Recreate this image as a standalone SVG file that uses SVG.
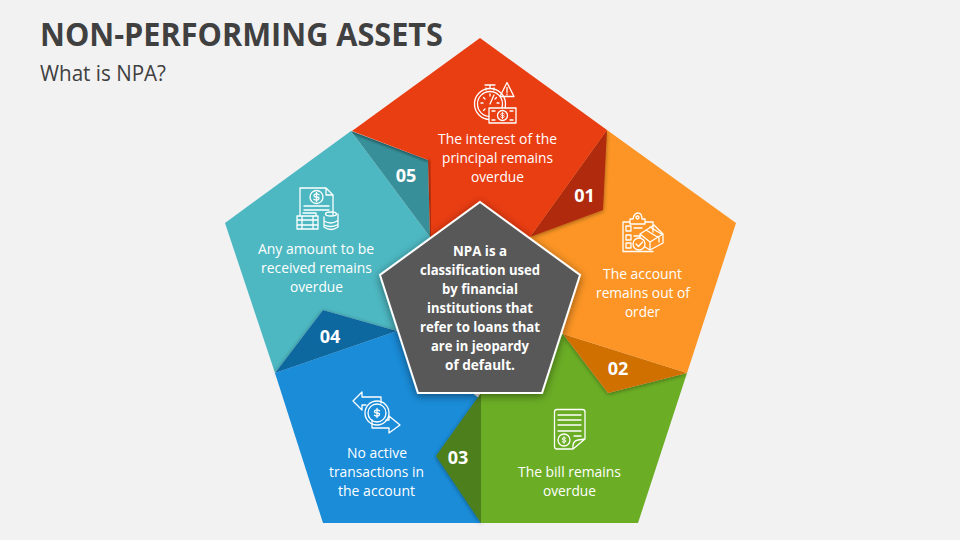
<svg xmlns="http://www.w3.org/2000/svg" width="960" height="540" viewBox="0 0 960 540">
<style>
text{font-family:"Open Sans","Noto Sans","Liberation Sans",sans-serif;fill:#fff;text-anchor:middle}
.t{font-size:15px;font-weight:500}
.n{font-size:18px;font-weight:700}
.c{font-size:15px;font-weight:700}
.h{fill:#404040;text-anchor:start}
.i{fill:none;stroke:#fff;stroke-width:1.3;stroke-linejoin:round;stroke-linecap:round}
.e{fill:none;stroke:#000;stroke-opacity:.45;stroke-width:3}
</style>
<defs>
<filter id="s" x="-20%" y="-20%" width="140%" height="140%"><feDropShadow dx="0" dy="1" stdDeviation="2" flood-color="#000" flood-opacity=".4"/></filter>
<filter id="sc" x="-20%" y="-20%" width="140%" height="140%"><feDropShadow dx="0" dy="2" stdDeviation="4" flood-color="#000" flood-opacity=".45"/></filter>
<filter id="b" x="-30%" y="-30%" width="160%" height="160%"><feGaussianBlur stdDeviation="1.500"/></filter>
<clipPath id="f5"><polygon points="351,131 428,160 430,237"/></clipPath>
<clipPath id="r1"><polygon points="480,38 607,130 530,237 480,260 430,237 428,160 352,131"/></clipPath>
<path id="d" d="M2.500 -2.200C1 -3.500 -2.500 -3.500 -2.500 -1.200C-2.500 1 2.500 -1 2.500 1.200C2.500 3.500 -1 3.500 -2.500 2.200M0 -4.500V4.500"/>
</defs>
<rect width="960" height="540" fill="#f2f2f2"/>
<text class="h" x="40" y="46" font-size="32" font-weight="700" textLength="403" lengthAdjust="spacingAndGlyphs">NON-PERFORMING ASSETS</text>
<text class="h" x="40" y="81" font-size="22" textLength="126" lengthAdjust="spacingAndGlyphs">What is NPA?</text>

<g id="node-5">
<polygon fill="#4db8c2" points="225,223 351,131 430,237 397,331 323,310 275,373"/>
<polygon fill="#379099" points="351,131 428,160 430,237"/>
<g clip-path="url(#f5)"><path class="e" filter="url(#b)" d="M351 131L428 160"/></g>
<g class="i">
<path d="M300 215V188H326L333 195V215M326 188V195H333"/>
<circle cx="316.500" cy="197" r="6.500"/>
<use href="#d" x="316.500" y="197"/>
<path d="M304 206H329M304 210H329"/>
<path d="M297 216H318V229H297ZM297 220H318M297 225H318M302 216V229M313 216V229M303 213H316V216"/>
<ellipse cx="331" cy="214" rx="5.500" ry="2"/>
<path d="M324 217V227Q331 232 338 227V214M324 221Q331 225 337 221M324 225Q331 228 337 225"/>
</g>
<text class="t" x="316" y="254" textLength="116" lengthAdjust="spacingAndGlyphs">Any amount to be</text>
<text class="t" x="316.500" y="273" textLength="111" lengthAdjust="spacingAndGlyphs">received remains</text>
<text class="t" x="316.500" y="292" textLength="53" lengthAdjust="spacingAndGlyphs">overdue</text>
<text class="n" x="406" y="182">05</text>
</g>

<g id="node-4">
<polygon fill="#11689f" filter="url(#s)" points="275,373 323,310 397,331"/>
<polygon fill="#1a8cd8" points="275,373 397,331 481,400 481,523 323,523"/>
<g class="i">
<path d="M381 403V397H362V392L353 401L362 410V405H366"/>
<path d="M372 420V428H389V433L400 425L389 416V420H386"/>
<circle cx="377" cy="413" r="12"/><circle cx="377" cy="413" r="9"/>
<use href="#d" x="377" y="413"/>
</g>
<text class="t" x="377" y="458" textLength="60" lengthAdjust="spacingAndGlyphs">No active</text>
<text class="t" x="376.500" y="477" textLength="95" lengthAdjust="spacingAndGlyphs">transactions in</text>
<text class="t" x="376.500" y="496" textLength="77" lengthAdjust="spacingAndGlyphs">the account</text>
<text class="n" x="330" y="343">04</text>
</g>

<g id="node-3">
<polygon fill="#4e7f1b" filter="url(#s)" points="481,393 436,456 481,523"/>
<polygon fill="#6bad25" points="481,393 563,334 608,393 687,373 638,523 481,523"/>
<g class="i">
<path d="M572 449H557Q554.500 449 554.500 446.500V412Q554.500 409.500 557 409.500H582.500Q585 409.500 585 412V439L573 449Q572 441 578 440L585 439"/>
<path d="M558 415H581M558 420H581M558 425H581M558 431H581M574 436H581"/>
<circle cx="564" cy="440" r="6"/>
<use href="#d" transform="translate(564 440) scale(.75)"/>
</g>
<text class="t" x="569.500" y="477" textLength="103" lengthAdjust="spacingAndGlyphs">The bill remains</text>
<text class="t" x="569.500" y="496" textLength="53" lengthAdjust="spacingAndGlyphs">overdue</text>
<text class="n" x="458" y="464">03</text>
</g>

<g id="node-2">
<polygon fill="#d06f05" filter="url(#s)" points="563,334 687,373 608,393"/>
<polygon fill="#fc9525" points="607,130 736,223 687,373 563,334 530,237"/>
<g class="i">
<path d="M630 222H623V251.500H653M653 232V222H645M630 222V219H633Q634 213 638 213Q642 213 642 219H645V224H630Z"/>
<circle cx="637.500" cy="217.500" r="1.500"/>
<path d="M626 226H631V231H626ZM626 235H631V240H626ZM626 243H631V248H626ZM634 228H642M634 236H640"/>
<path d="M640 234L654 225L663 234L650 242ZM640 234V244L650 250V242M650 250L663 243V234M646 230L659 238L659 242M650 227L663 235"/>
<circle cx="639" cy="244" r="6" fill="#fc9525"/>
<path d="M636 244L638.500 246.500L642.500 242"/>
</g>
<text class="t" x="642.500" y="279" textLength="79" lengthAdjust="spacingAndGlyphs">The account</text>
<text class="t" x="643" y="298" textLength="94" lengthAdjust="spacingAndGlyphs">remains out of</text>
<text class="t" x="642.500" y="317" textLength="35" lengthAdjust="spacingAndGlyphs">order</text>
<text class="n" x="618" y="375">02</text>
</g>

<g id="node-1">
<polygon fill="#b02c0e" filter="url(#s)" points="607,130 603,210 530,237"/>
<polygon fill="#e93d12" points="480,38 607,130 530,237 480,260 430,237 428,160 352,131"/>
<g clip-path="url(#r1)"><path class="e" filter="url(#b)" d="M428 160L430 237"/></g>
<g class="i">
<circle cx="490" cy="104" r="15.500"/><circle cx="490" cy="104" r="12.500"/>
<path d="M485 85H495M490 85V88.500M486 88V90M494 88V90M490 104L494 95"/>
<path d="M490 94V96M481 103H483M483.500 97.500L485 99M483.500 110.500L485 109M497 103H499M496.500 97.500L495 99"/>
<path d="M500 96.500L507 82.500L514 96.500ZM507 87.500V92.500M507 94.200V94.800"/>
<path d="M489 108H516V123H489Z" fill="#e93d12"/>
<circle cx="502.500" cy="115.500" r="5"/>
<use href="#d" transform="translate(502.500 115.500) scale(.7)"/>
<path d="M492 111H495M510 111H513M492 120H495M510 120H513"/>
</g>
<text class="t" x="497.500" y="144" textLength="119" lengthAdjust="spacingAndGlyphs">The interest of the</text>
<text class="t" x="497.500" y="163" textLength="111" lengthAdjust="spacingAndGlyphs">principal remains</text>
<text class="t" x="497.500" y="182" textLength="53" lengthAdjust="spacingAndGlyphs">overdue</text>
<text class="n" x="584.500" y="202">01</text>
</g>

<g id="node-center">
<polygon fill="#595959" stroke="#fff" stroke-width="2" filter="url(#sc)" points="480,202 580,275 542,393 418,393 380,275"/>
<text class="c" x="480" y="256" textLength="54" lengthAdjust="spacingAndGlyphs">NPA is a</text>
<text class="c" x="480" y="275" textLength="120" lengthAdjust="spacingAndGlyphs">classification used</text>
<text class="c" x="480" y="294" textLength="76" lengthAdjust="spacingAndGlyphs">by financial</text>
<text class="c" x="480" y="313" textLength="106" lengthAdjust="spacingAndGlyphs">institutions that</text>
<text class="c" x="480" y="332" textLength="120" lengthAdjust="spacingAndGlyphs">refer to loans that</text>
<text class="c" x="480" y="351" textLength="98" lengthAdjust="spacingAndGlyphs">are in jeopardy</text>
<text class="c" x="480" y="370" textLength="70" lengthAdjust="spacingAndGlyphs">of default.</text>
</g>
</svg>
